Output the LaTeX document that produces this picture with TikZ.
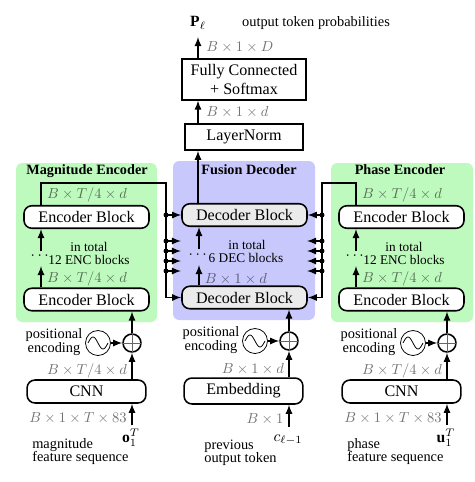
\documentclass[tikz,border=0pt]{standalone}
\usepackage{amsmath,amssymb,bm}
\usepackage{fontspec}
\setmainfont{Liberation Serif}
\usetikzlibrary{calc}

\definecolor{encGreen}{RGB}{190,250,190}
\definecolor{decPurple}{RGB}{200,200,252}

\tikzset{
  link/.style={line width=1pt, >=latex},
  block/.style={draw, fill=white, line width=1pt, rounded corners=5pt, inner sep=0pt, minimum width=80pt, minimum height=14.4pt, font=\fontsize{10.3}{12}\selectfont},
  lowbox/.style={draw, line width=1pt, rounded corners=5pt, inner sep=0pt, minimum width=76pt, font=\fontsize{10.3}{12}\selectfont},
  plainbox/.style={draw, line width=1pt, inner sep=0pt, align=center, font=\fontsize{10.3}{11.8}\selectfont},
  dim/.style={text=black, text opacity=0.55, inner sep=0pt, scale=0.93},
  note/.style={font=\fontsize{8.5}{9}\selectfont, inner sep=0pt},
  caption/.style={font=\fontsize{9.2}{8.4}\selectfont, inner sep=0pt, align=left},
  paneltitle/.style={font=\fontsize{9.1}{9}\selectfont\bfseries, inner sep=0pt}
}

\begin{document}
\begin{tikzpicture}[x=0.64pt, y=-0.64pt]
\useasboundingbox (0,0) rectangle (474,482);

% ── Panels ──
\fill[encGreen, rounded corners=4pt] (16,163) rectangle (157,322);
\fill[decPurple, rounded corners=4pt] (173,161) rectangle (315,320);
\fill[encGreen, rounded corners=4pt] (331,163) rectangle (473,322);
\node[paneltitle] (titleM) at (87,171) {Magnitude Encoder};
\node[paneltitle] (titleD) at (249,170) {Fusion Decoder};
\node[paneltitle] (titleU) at (400,170) {Phase Encoder};

% ── Output stack ──
\node[plainbox, minimum width=79.4pt, minimum height=26pt] (fc) at (244,79.5) {Fully Connected\\+ Softmax};
\node[plainbox, minimum width=75.5pt, minimum height=16.6pt] (lnorm) at (244,137) {LayerNorm};
\node[inner sep=0pt] (probs) at (198,23) {$\mathbf{P}_{\ell}$};
\node[caption] (probstxt) at (316,23) {output token probabilities};
\node[dim, anchor=west] (dimD) at (206,47) {$B \times 1 \times D$};
\node[dim, anchor=west] (dimF) at (206,112) {$B \times 1 \times d$};
\coordinate (tipP) at (198,37);

% ── Encoders ──
\foreach \nm/\ox in {M/0, U/315} {
  \node[block] (enc\nm t) at ({86.5+\ox},217) {Encoder Block};
  \node[block] (enc\nm b) at ({86.5+\ox},299.5) {Encoder Block};
  \node[lowbox, minimum height=14.7pt] (cnn\nm) at ({86.5+\ox},391.5) {CNN};
  \node[dim] (dim\nm t) at ({87+\ox},195) {$B \times T/4 \times d$};
  \node[dim] (dim\nm b) at ({87+\ox},279) {$B \times T/4 \times d$};
  \node[dim] (dim\nm c) at ({87+\ox},371) {$B \times T/4 \times d$};
  \node[dim] (dim\nm i) at ({78+\ox},418) {$B \times 1 \times T \times 83$};
  \node[note] (tot\nm) at ({89+\ox},247) {in total};
  \node[note] (cnt\nm) at ({89+\ox},260) {12 ENC blocks};
  \node[inner sep=0pt] (dots\nm) at ({41+\ox},256.5) {$\cdots$};
  \coordinate (gap\nm b) at ({41+\ox},266);
  \coordinate (gap\nm t) at ({41+\ox},251);
  \coordinate (up\nm) at ({41+\ox},183);
  \draw[link,->] (enc\nm b.north -| gap\nm b) -- (gap\nm b);
  \draw[link,->] (gap\nm t) -- (enc\nm t.south -| gap\nm t);
}

% ── Decoder ──
\node[block, fill=black!8, minimum height=14.4pt] (decT) at (244.5,215) {Decoder Block};
\node[block, fill=black!8, minimum height=14.4pt] (decB) at (244.5,297.5) {Decoder Block};
\node[lowbox, minimum height=16.6pt] (embed) at (243.5,391) {Embedding};
\node[note] (totD) at (247,245) {in total};
\node[note] (cntD) at (246,258) {6 DEC blocks};
\node[inner sep=0pt] (dotsD) at (199,255) {$\cdots$};
\node[dim] (dimDb) at (236,279) {$B \times 1 \times d$};
\node[dim] (dimDc) at (253,369) {$B \times 1 \times d$};
\node[dim] (dimDi) at (265,419) {$B \times 1$};
\coordinate (gapDb) at (199,265);
\coordinate (gapDt) at (199,249);
\draw[link,->] (decB.north -| gapDb) -- (gapDb);
\draw[link,->] (gapDt) -- (decT.south -| gapDt);

% ── Positional encoding ──
\foreach \nm/\cx/\cy in {M/132/343, D/289/341, U/447/343} {
  \node[circle, draw, line width=1pt, inner sep=0pt, minimum size=11.5pt] (plus\nm) at (\cx,\cy) {};
  \node[circle, draw, line width=0.5pt, inner sep=0pt, minimum size=16pt] (sin\nm) at ({\cx-34},\cy) {};
  \node[caption, align=center] (pos\nm) at ({\cx-78},{\cy-1}) {positional\\encoding};
  \draw[black!60, line width=0.4pt] (plus\nm.north) -- (plus\nm.south);
  \draw[black!60, line width=0.4pt] (plus\nm.west) -- (plus\nm.east);
  \draw[line width=0.5pt, domain=-1:1, samples=30, smooth, shift={(sin\nm)}] plot (\x*10, {6*sin(\x*180)});
  \draw[link,->] (sin\nm.east) -- (plus\nm.west);
}

% ── Flow up ──
\draw[link,->] (cnnM.north -| plusM) -- (plusM.south);
\draw[link,->] (embed.north -| plusD) -- (plusD.south);
\draw[link,->] (cnnU.north -| plusU) -- (plusU.south);
\draw[link,->] (plusM.north) -- (encMb.south -| plusM);
\draw[link,->] (plusD.north) -- (decB.south -| plusD);
\draw[link,->] (plusU.north) -- (encUb.south -| plusU);

% ── Inputs ──
\node[inner sep=0pt] (inM) at (131,438) {$\mathbf{o}_1^T$};
\node[inner sep=0pt] (inD) at (288,440) {$c_{\ell-1}$};
\node[inner sep=0pt] (inU) at (446,438) {$\mathbf{u}_1^T$};
\coordinate (startM) at (132,425);
\coordinate (startD) at (289,427);
\coordinate (startU) at (447,425);
\draw[link,->] (startM) -- (cnnM.south -| plusM);
\draw[link,->] (startD) -- (embed.south -| plusD);
\draw[link,->] (startU) -- (cnnU.south -| plusU);
\foreach \nm/\cx/\cy/\upper/\lower in {M/32/445/magnitude/feature sequence, D/204/446/previous/output token, U/347/445/phase/feature sequence} {
  \node[caption, anchor=west] (cap\nm a) at (\cx,\cy) {\upper};
  \node[caption, anchor=west] (cap\nm b) at (\cx,{\cy+13}) {\lower};
}

% ── Output arrows ──
\draw[link,->] (decT.north -| probs) -- (lnorm.south -| probs);
\draw[link,->] (lnorm.north -| probs) -- (fc.south -| probs);
\draw[link,->] (fc.north -| probs) -- (tipP);

% ── Encoder outputs to decoder ──
\coordinate (busM) at (166,183);
\coordinate (busU) at (322,183);
\draw[link,->] (encMt.north -| upM) -- (upM) -- (busM) -- (busM |- decB.west) -- (decB.west);
\draw[link,->] (encUt.north -| upU) -- (upU) -- (busU) -- (busU |- decB.east) -- (decB.east);
\draw[link,->] (busM |- decT.west) -- (decT.west);
\draw[link,->] (busU |- decT.east) -- (decT.east);
\fill (busM |- decT.west) circle (2.5);
\fill (busU |- decT.east) circle (2.5);
\foreach \yy in {241, 251, 261, 271} {
  \draw[link,->] (busM |- 0,\yy) -- ++(15,0);
  \draw[link,->] (busU |- 0,\yy) -- ++(-15,0);
  \fill (busM |- 0,\yy) circle (2.5);
  \fill (busU |- 0,\yy) circle (2.5);
}

\end{tikzpicture}
\end{document}
